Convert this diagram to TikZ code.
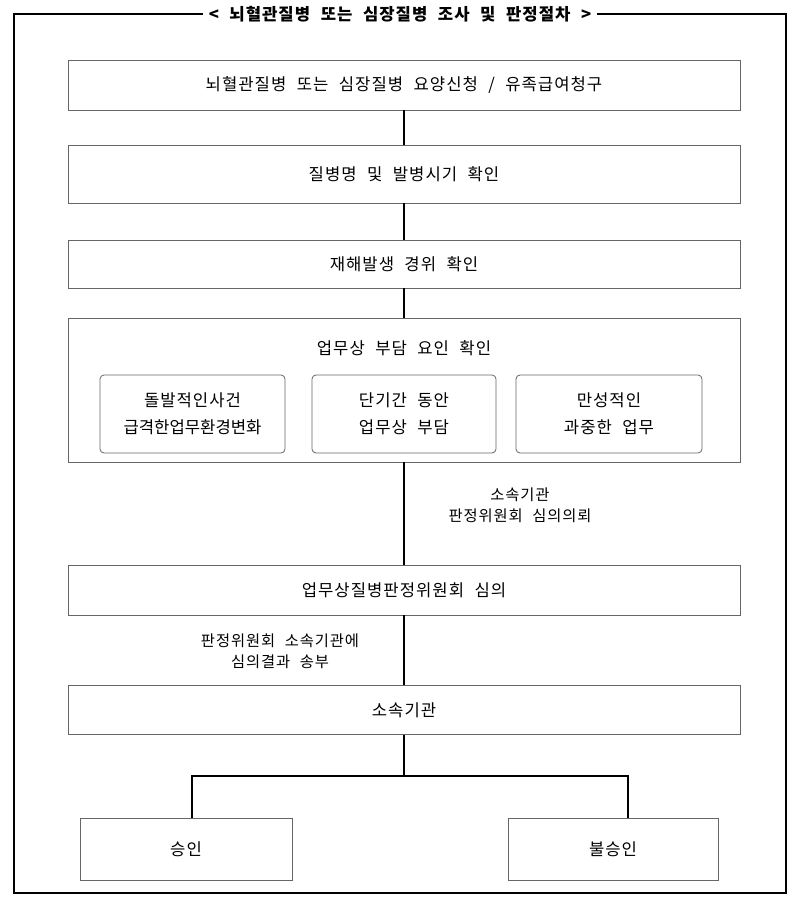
\documentclass[tikz,border=0pt]{standalone}
\usepackage{fontspec}
\setmainfont{Noto Sans CJK KR}[LetterSpace=6,WordSpace=2.2]
\begin{document}
\begin{tikzpicture}[x=0.75pt,y=-0.75pt,
  bx/.style={draw=black!60,line width=0.6pt,fill=white,minimum height=#1*0.75pt,inner sep=0pt,font=\fontsize{12.5}{15}\selectfont},
  ln/.style={line width=2.2pt},
  lb/.style={font=\fontsize{11.5}{16}\selectfont,align=center}]
\useasboundingbox (0,0) rectangle (800,907);
\draw[line width=0.8pt] (14,14) rectangle (786,893);
\node[fill=white,font=\bfseries\fontsize{12.5}{15}\selectfont,inner xsep=4pt] (t) at (400,14) {< 뇌혈관질병 또는 심장질병 조사 및 판정절차 >};
\node[bx=50,minimum width=672*0.75pt] (b1) at (404,85) {뇌혈관질병 또는 심장질병 요양신청 / 유족급여청구};
\node[bx=58,minimum width=672*0.75pt] (b2) at (404,174) {질병명 및 발병시기 확인};
\node[bx=48,minimum width=672*0.75pt] (b3) at (404,264) {재해발생 경위 확인};
\node[bx=144,minimum width=672*0.75pt] (b4) at (404,390) {};
\node[font=\fontsize{12.5}{15}\selectfont] (b4t) at (404,348) {업무상 부담 요인 확인};
\node[bx=78,minimum width=185*0.75pt,rounded corners=3pt,align=center,font=\fontsize{12.5}{20}\selectfont] (i1) at (192.5,414) {돌발적인사건\\{\addfontfeature{LetterSpace=0}급격한업무환경변화}};
\node[bx=78,minimum width=184*0.75pt,rounded corners=3pt,align=center,font=\fontsize{12.5}{20}\selectfont] (i2) at (404,414) {단기간 동안\\업무상 부담};
\node[bx=78,minimum width=186*0.75pt,rounded corners=3pt,align=center,font=\fontsize{12.5}{20}\selectfont] (i3) at (609,414) {만성적인\\과중한 업무};
\node[bx=50,minimum width=672*0.75pt] (b5) at (404,590) {업무상질병판정위원회 심의};
\node[bx=49,minimum width=672*0.75pt] (b6) at (404,710) {소속기관};
\node[bx=62,minimum width=212*0.75pt] (y) at (186,849) {승인};
\node[bx=62,minimum width=210*0.75pt] (n) at (613,849) {불승인};
\node[lb] (l1) at (520,505) {소속기관\\판정위원회 심의의뢰};
\node[lb] (l2) at (280,651) {판정위원회 소속기관에\\심의결과 송부};
\draw[ln] (b1) -- (b2);
\draw[ln] (b2) -- (b3);
\draw[ln] (b3) -- (b4);
\draw[ln] (b4) -- (b5);
\draw[ln] (b5) -- (b6);
\coordinate (j) at (404,776);
\draw[ln] (b6) -- (j);
\draw[ln] (j) -- (192,776) -- (y.north -| 192,0);
\draw[ln] (j) -- (628,776) -- (n.north -| 628,0);
\end{tikzpicture}
\end{document}
